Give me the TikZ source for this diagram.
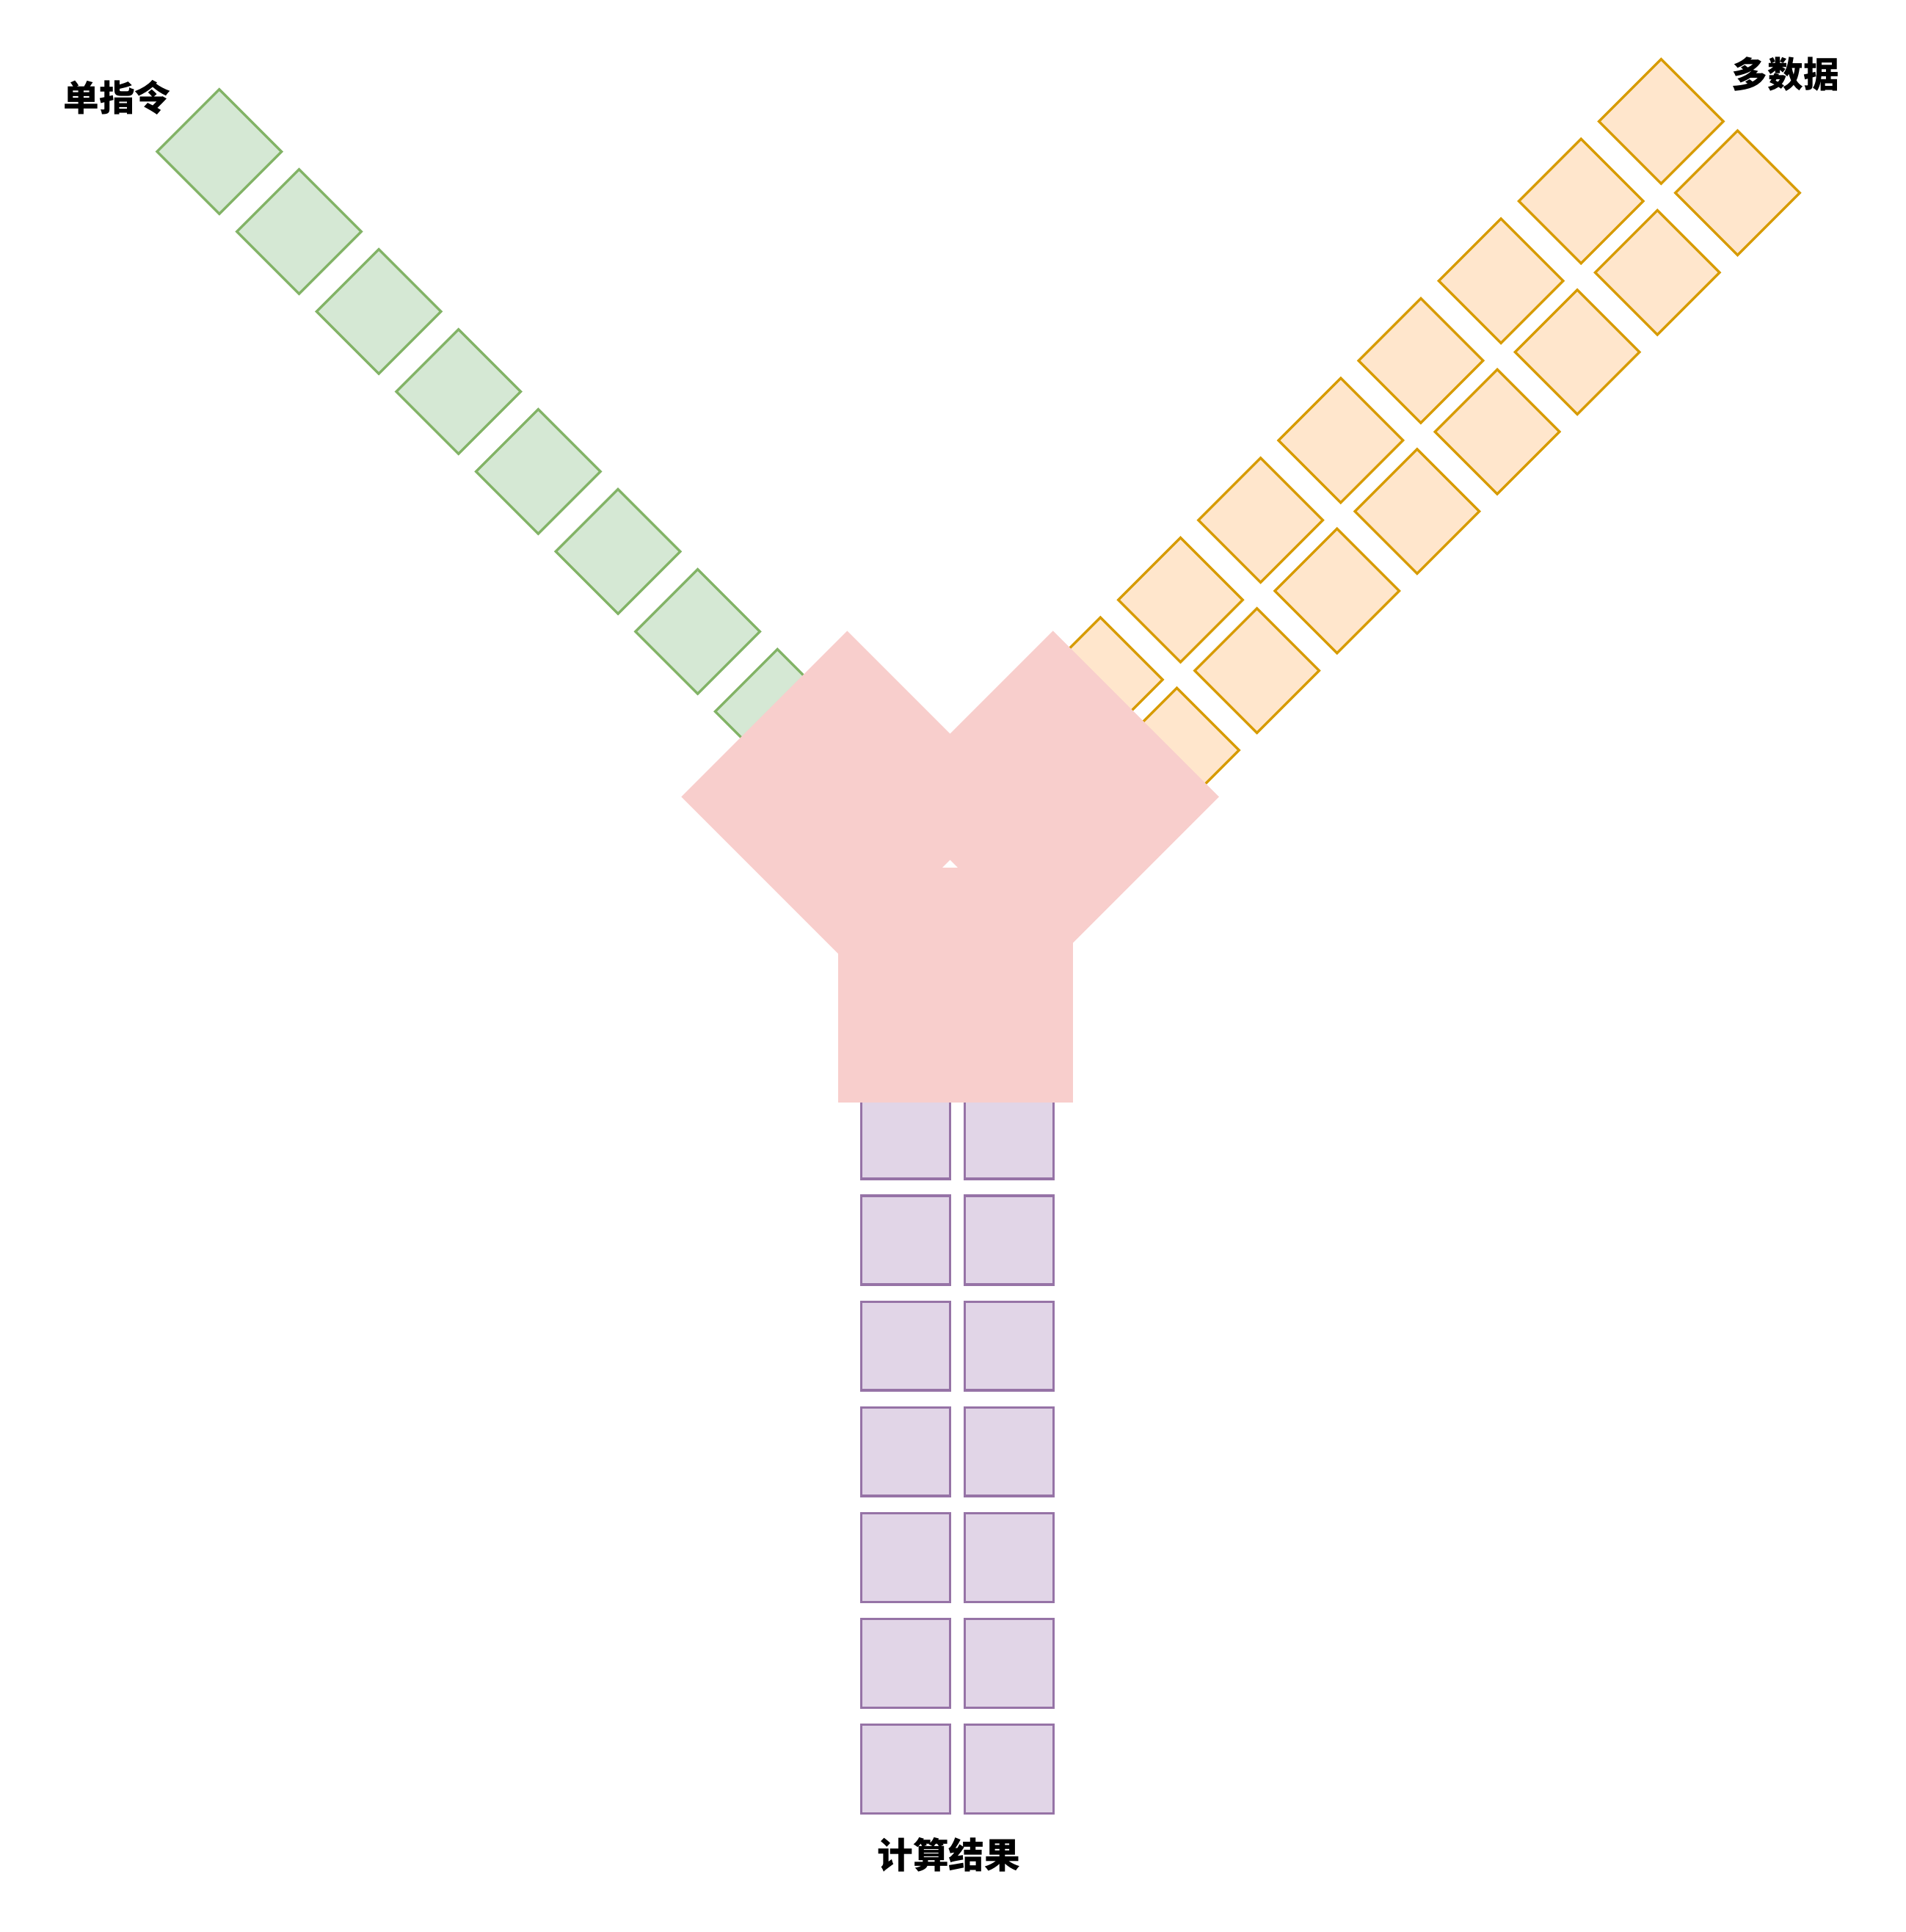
\documentclass[tikz,border=0pt]{standalone}
\usepackage{fontspec}
\usepackage{tikz}
\usetikzlibrary{positioning}
\newfontfamily\cjk{Noto Sans CJK SC}
\definecolor{insfill}{HTML}{D5E8D4}
\definecolor{insline}{HTML}{82B366}
\definecolor{datfill}{HTML}{FFE6CC}
\definecolor{datline}{HTML}{D79B00}
\definecolor{resfill}{HTML}{E1D5E7}
\definecolor{resline}{HTML}{9673A6}
\definecolor{corefill}{HTML}{F8CECC}
\tikzset{
  cell/.style={draw, line width=1pt, minimum size=35.7pt, inner sep=0pt, outer sep=0pt},
  ins/.style={cell, rotate=45, fill=insfill, draw=insline},
  dat/.style={cell, rotate=45, fill=datfill, draw=datline},
  res/.style={cell, fill=resfill, draw=resline, minimum size=36pt},
  core/.style={fill=corefill, inner sep=0pt, minimum size=95.2pt},
  cjktext/.style={font=\cjk\bfseries\fontsize{14.5pt}{17pt}\selectfont},
}

\begin{document}
\begin{tikzpicture}[x=0.5pt, y=-0.5pt]
  \useasboundingbox (0,0) rectangle (1546.2,1567.6);

  % instruction cells
  \foreach \i in {0,...,7}
    \node[ins] (ins\i) at ({178+64.7*\i}, {123+64.9*\i}) {};

  % data cells
  \foreach \i in {0,...,7} {
    \node[dat] (datA\i) at ({1348-65*\i}, {98.5+64.7*\i}) {};
    \node[dat] (datB\i) at ({1410-65*\i}, {156.5+64.6*\i}) {};
  }

  % result cells
  \foreach \j in {0,...,6} {
    \node[res] (resL\j) at (735, {920.5+85.8*\j}) {};
    \node[res, right=6pt of resL\j] (resR\j) {};
  }

  % core
  \node[core, rotate=45] (coreL) at (687.5,646.5) {};
  \node[core, rotate=45] (coreR) at (854.5,646.5) {};
  \node[core, minimum width=95.25pt, minimum height=95.1pt] (coreB) at (775.5,799.2) {};

  % labels
  \node[cjktext] (tins) at (95,79) {单指令};
  \node[cjktext] (tdat) at (1449,60) {多数据};
  \node[cjktext] (tres) at (770,1505) {计算结果};
\end{tikzpicture}
\end{document}
